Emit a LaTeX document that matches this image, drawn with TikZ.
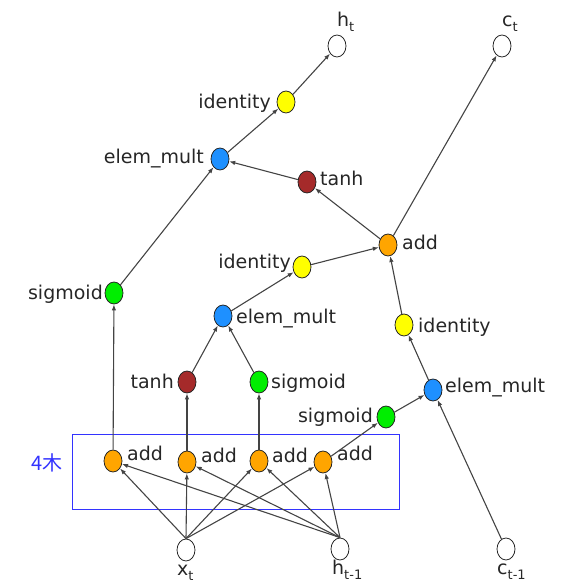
\documentclass[tikz,border=0pt]{standalone}
\usepackage{fontspec}
\setmainfont{DejaVu Sans}
\newfontfamily\cjk{Noto Sans CJK SC}
\usetikzlibrary{arrows.meta,shapes.geometric}
\definecolor{cOrange}{HTML}{FFA500}
\definecolor{cGreen}{HTML}{00EE00}
\definecolor{cBlue}{HTML}{1E90FF}
\definecolor{cRed}{HTML}{A52A2A}
\definecolor{cYellow}{HTML}{FFFF00}
\definecolor{cLine}{HTML}{444444}
\definecolor{cBox}{HTML}{3333FF}
\begin{document}
\begin{tikzpicture}[x=1pt,y=-1pt,
  op/.style={ellipse,draw=black!85,line width=0.8pt,minimum width=18pt,minimum height=22pt,inner sep=0pt},
  io/.style={op,fill=white},
  oadd/.style={op,fill=cOrange},
  osig/.style={op,fill=cGreen},
  omul/.style={op,fill=cBlue},
  otanh/.style={op,fill=cRed},
  oid/.style={op,fill=cYellow},
  conn/.style={draw=cLine,line width=1.1pt,-{Latex[length=6pt,width=4.5pt]}},
  lbl/.style={font=\fontsize{19}{21}\selectfont,text=black!85,inner sep=0pt},
  sub/.style={}]
\useasboundingbox (0,0) rectangle (568,588);
% blue box
\draw[cBox,line width=1pt] (72,434) rectangle (399,509);
\node[anchor=base west,inner sep=0pt,text=cBox,font=\cjk\fontsize{20}{22}\selectfont] (four) at (31,470) {4木};
% nodes
\node[io] (ht) at (337,46) {};
\node[io] (ct) at (502,46) {};
\node[oid] (idT) at (286,102) {};
\node[omul] (emT) at (220,159) {};
\node[otanh] (tanhT) at (307,182) {};
\node[oadd] (addM) at (388,245) {};
\node[oid] (idM) at (302,267) {};
\node[osig] (sigL) at (114,293) {};
\node[omul] (emM) at (223,316) {};
\node[oid] (idR) at (404,325) {};
\node[otanh] (tanhL) at (187,382) {};
\node[osig] (sigM) at (259,382) {};
\node[omul] (emR) at (433,390) {};
\node[osig] (sigR) at (386,417) {};
\node[oadd] (a1) at (113,461) {};
\node[oadd] (a2) at (187,462) {};
\node[oadd] (a3) at (259,461) {};
\node[oadd] (a4) at (323,462) {};
\node[io] (xt) at (186,550) {};
\node[io] (ht1) at (340,549) {};
\node[io] (ct1) at (506,549) {};
% labels
\node[lbl,anchor=base west] (Lht) at (337,27) {h\raisebox{-5pt}{\fontsize{13}{13}\selectfont t}};
\node[lbl,anchor=base west] (Lct) at (502,27) {c\raisebox{-5pt}{\fontsize{13}{13}\selectfont t}};
\node[lbl,anchor=base east] (LidT) at (271,109) {identity};
\node[lbl,anchor=base east] (LemT) at (204,164) {elem\_mult};
\node[lbl,anchor=base west] (LtanhT) at (320,185) {tanh};
\node[lbl,anchor=base west] (LaddM) at (402,249) {add};
\node[lbl,anchor=base east] (LidM) at (291,268) {identity};
\node[lbl,anchor=base east] (LsigL) at (103,299) {sigmoid};
\node[lbl,anchor=base west] (LemM) at (236,323) {elem\_mult};
\node[lbl,anchor=base west] (LidR) at (418,332) {identity};
\node[lbl,anchor=base east] (LtanhL) at (174,388) {tanh};
\node[lbl,anchor=base west] (LsigM) at (271,388) {sigmoid};
\node[lbl,anchor=base west] (LemR) at (445,392) {elem\_mult};
\node[lbl,anchor=base east] (LsigR) at (373,422) {sigmoid};
\node[lbl,anchor=base west] (La1) at (127,460) {add};
\node[lbl,anchor=base west] (La2) at (201,462) {add};
\node[lbl,anchor=base west] (La3) at (272,462) {add};
\node[lbl,anchor=base west] (La4) at (337,460) {add};
\node[lbl,anchor=base west] (Lxt) at (177,575) {x\raisebox{-5pt}{\fontsize{13}{13}\selectfont t}};
\node[lbl,anchor=base west] (Lht1) at (332,574) {h\raisebox{-5pt}{\fontsize{13}{13}\selectfont t-1}};
\node[lbl,anchor=base west] (Lct1) at (497,574) {c\raisebox{-5pt}{\fontsize{13}{13}\selectfont t-1}};
% connectors
\foreach \t in {a1,a2,a3,a4} {
  \draw[conn] (xt.north) -- (\t);
  \draw[conn] (ht1.north) -- (\t);
}
\draw[conn] (a1) -- (sigL);
\draw[conn] (a2) -- (tanhL);
\draw[conn] (a3) -- (sigM);
\draw[conn] (a4) -- (sigR);
\draw[conn] (tanhL) -- (emM);
\draw[conn] (sigM) -- (emM);
\draw[conn] (sigR) -- (emR);
\draw[conn] (ct1) -- (emR);
\draw[conn] (emM) -- (idM);
\draw[conn] (idM) -- (addM);
\draw[conn] (emR) -- (idR);
\draw[conn] (idR) -- (addM);
\draw[conn] (addM) -- (tanhT);
\draw[conn] (addM) -- (ct);
\draw[conn] (tanhT) -- (emT);
\draw[conn] (sigL) -- (emT);
\draw[conn] (emT) -- (idT);
\draw[conn] (idT) -- (ht);
\end{tikzpicture}
\end{document}
